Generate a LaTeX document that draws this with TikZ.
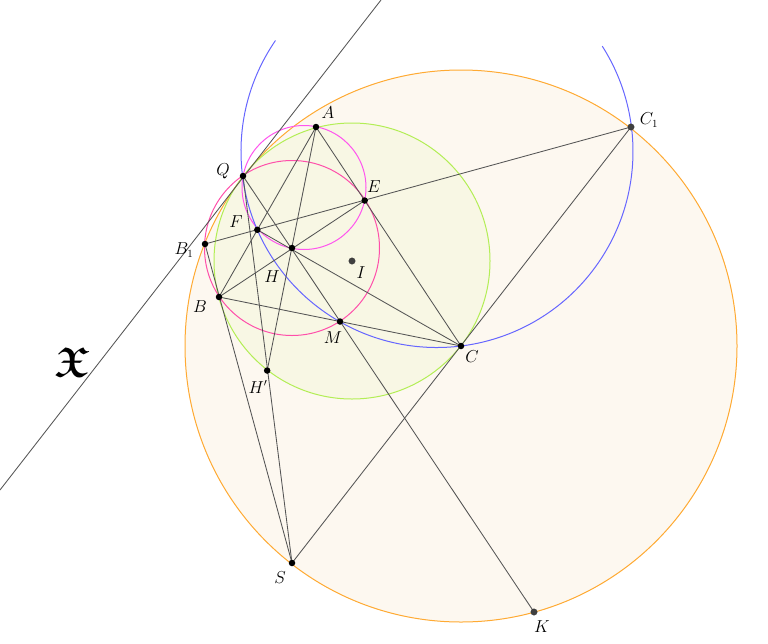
\documentclass[tikz,border=0pt]{standalone}
\usepackage{amssymb}
\usetikzlibrary{calc}
\definecolor{orng}{HTML}{FFAA33}
\definecolor{orngfill}{HTML}{FDF8F0}
\definecolor{grn}{HTML}{B3EE55}
\definecolor{grnfill}{HTML}{F8F7E4}
\definecolor{blu}{HTML}{6666FF}
\definecolor{mag}{HTML}{FF55EE}
\definecolor{pnk}{HTML}{FF4FAA}
\definecolor{seg}{HTML}{555555}
\tikzset{
  seg/.style={draw=seg, line width=0.85pt},
  circ/.style={line width=1pt},
  dot/.style={circle, fill=black, inner sep=0pt, minimum size=6.5pt},
  gdot/.style={circle, fill=black!75, draw=black!80, line width=0.3pt, inner sep=0pt, minimum size=6.5pt},
  lbl/.style={inner sep=0pt, font=\fontsize{16}{18}\selectfont},
  frakstyle/.style={inner sep=0pt, font=\fontsize{42}{42}\selectfont\boldmath}
}
\begin{document}
\begin{tikzpicture}[x=1pt,y=-1pt]
\useasboundingbox (0,0) rectangle (768,643);
% points
\coordinate (A) at (316,127);
\coordinate (B) at (219,297);
\coordinate (C) at (461,346);
\coordinate (Q) at (243,176);
\coordinate (I) at (352,261);
\coordinate (H) at (292,248);
\coordinate (E) at ($(A)!(B)!(C)$);
\coordinate (F) at ($(A)!(C)!(B)$);
\coordinate (M) at ($(B)!0.5!(C)$);
\coordinate (P) at ($(B)!(H)!(C)$);
\coordinate (Hp) at ($(H)!2!(P)$);
\coordinate (B1) at (205,244);
\coordinate (C1) at (631,127);
\coordinate (S) at (292,563);
\coordinate (K) at (534,612);
\coordinate (T1) at (0,490);
\coordinate (T2) at (381,0);
\coordinate (Ob) at ($(Q)!0.5!(C1)$);
\coordinate (Oa) at ($(A)!0.5!(H)$);
% filled circles
\fill[orngfill] (C) circle[radius=276pt];
\fill[grnfill] (I) circle[radius=138pt];
\draw[orng, circ] (C) circle[radius=276pt];
\draw[grn, circ] (I) circle[radius=138pt];
\draw[pnk, circ] (H) circle[radius=87.5pt];
\draw[mag, circ] (Oa) circle[radius=62pt];
\draw[blu, circ] (Ob) ++(145.5:196pt) arc[start angle=145.5, end angle=392.5, radius=196pt];
% lines
\draw[seg] (T1) -- (T2);
\draw[seg] (A) -- (B);
\draw[seg] (A) -- (C);
\draw[seg] (B) -- (C);
\draw[seg] (B1) -- (C1);
\draw[seg] (Q) -- (K);
\draw[seg] (C1) -- (S);
\draw[seg] (B1) -- (S);
\draw[seg] (Q) -- (S);
\draw[seg] (A) -- (Hp);
\draw[seg] (B) -- (E);
\draw[seg] (C) -- (F);
% dots
\foreach \p in {A,B,C,Q,H,E,F,M,Hp,B1,S}
  \node[dot] at (\p) {};
\foreach \p in {I,K,C1}
  \node[gdot] at (\p) {};
% labels
\node[lbl] (lA) at (328,113) {$A$};
\node[lbl] (lC1) at (649,120) {$C_1$};
\node[lbl] (lE) at (374,187) {$E$};
\node[lbl] (lQ) at (223,171) {$Q$};
\node[lbl] (lF) at (236,222) {$F$};
\node[lbl] (lB1) at (184,250) {$B_1$};
\node[lbl] (lH) at (272,277) {$H$};
\node[lbl] (lI) at (361,273) {$I$};
\node[lbl] (lB) at (200,307) {$B$};
\node[lbl] (lM) at (333,338) {$M$};
\node[lbl] (lC) at (472,357) {$C$};
\node[lbl] (lHp) at (258,387) {$H'$};
\node[lbl] (lS) at (280,578) {$S$};
\node[lbl] (lK) at (542,627) {$K$};
\node[frakstyle] (frak) at (72,362) {$\mathfrak{X}$};
\end{tikzpicture}
\end{document}
